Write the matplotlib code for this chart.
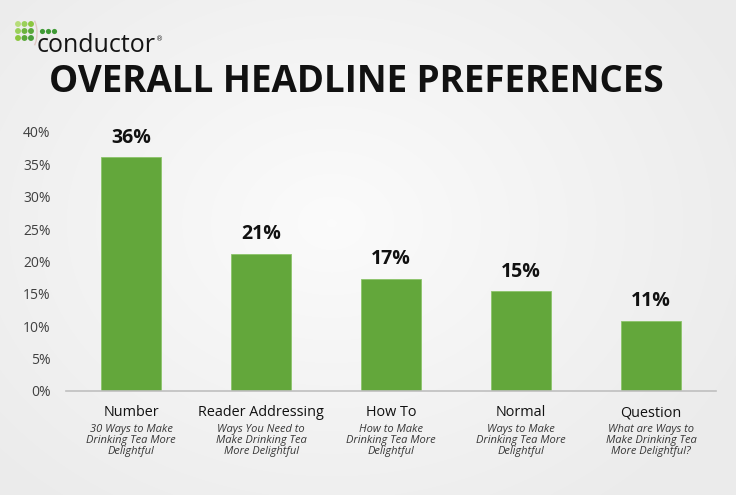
import numpy as np
import matplotlib
matplotlib.use("Agg")
import matplotlib.pyplot as plt
from matplotlib.patches import Arc

categories = ["Number", "Reader Addressing", "How To", "Normal", "Question"]
subtitles = [
    "30 Ways to Make\nDrinking Tea More\nDelightful",
    "Ways You Need to\nMake Drinking Tea\nMore Delightful",
    "How to Make\nDrinking Tea More\nDelightful",
    "Ways to Make\nDrinking Tea More\nDelightful",
    "What are Ways to\nMake Drinking Tea\nMore Delightful?",
]
values = [36.1, 21.2, 17.3, 15.4, 10.8]
value_labels = ["36%", "21%", "17%", "15%", "11%"]
yticks = [0, 5, 10, 15, 20, 25, 30, 35, 40]
ytick_labels = ["0%", "5%", "10%", "15%", "20%", "25%", "30%", "35%", "40%"]

W, H = 736, 495
fig = plt.figure(figsize=(W / 100, H / 100), dpi=100)

# background radial gradient (pixel coordinates)
bg = fig.add_axes([0, 0, 1, 1])
yy, xx = np.mgrid[0:H, 0:W]
r = np.sqrt(((xx - W * 0.45) / (W * 0.6)) ** 2 + ((yy - H * 0.45) / (H * 0.7)) ** 2)
r = np.clip(r, 0, 1)
val = 0.985 - 0.06 * r
bg.imshow(np.dstack([val, val, val]), aspect="auto", extent=[0, W, H, 0])
bg.set_xlim(0, W)
bg.set_ylim(H, 0)
bg.axis("off")

ax = fig.add_axes([66 / W, 1 - 391 / H, 650 / W, 259 / H])
ax.patch.set_alpha(0)
x = np.arange(len(categories))
ax.bar(x, values, width=0.46, color="#63a73b", edgecolor="#8cc46a", linewidth=0.6)
ax.set_xlim(-0.5, len(categories) - 0.5)
ax.set_ylim(0, 40)
ax.set_yticks(yticks)
ax.set_yticklabels(ytick_labels, fontsize=10, color="#404040", family="Open Sans")
ax.tick_params(axis="y", length=0, pad=11)
ax.tick_params(axis="x", length=0)
ax.set_xticks([])
for s in ["top", "right", "left"]:
    ax.spines[s].set_visible(False)
ax.spines["bottom"].set_color("#bfbfbf")
ax.spines["bottom"].set_linewidth(1.2)

for xi, v, lab in zip(x, values, value_labels):
    ax.annotate(lab, (xi, v), xytext=(0, 7), textcoords="offset points",
                ha="center", va="bottom", fontsize=14, fontweight="bold",
                color="#111111", family="Open Sans")

for xi, cat, sub in zip(x, categories, subtitles):
    ax.annotate(cat, (xi, 0), xytext=(0, -15.5), textcoords="offset points",
                ha="center", va="center", fontsize=10.4, color="#111111",
                family="Open Sans")
    ax.annotate(sub, (xi, 0), xytext=(0, -23.5), textcoords="offset points",
                ha="center", va="top", fontsize=8.0, color="#383838",
                style="italic", family="Open Sans", linespacing=1.05)

# title
fig.text(356 / W, 1 - 82 / H, "OVERALL HEADLINE PREFERENCES", ha="center", va="center",
         fontsize=26.5, fontweight="bold", color="#111111", family="Open Sans")

# logo
bg.text(37, 45, "conductor", ha="left", va="center", fontsize=18,
        color="#151515", family="Open Sans")
bg.text(156, 39, "®", ha="left", va="center", fontsize=5, color="#222222")
grid_cols = ["#b7dd7a", "#9ad05a", "#8cc63f",
             "#9ad05a", "#6cb33f", "#5aa83a",
             "#8cc63f", "#5aa83a", "#4a9e3a"]
gx, gy = [], []
for j in range(3):
    for i in range(3):
        gx.append(18 + i * 6.5)
        gy.append(24 + j * 7)
bg.scatter(gx, gy, s=18, c=grid_cols, marker="o", linewidths=0, zorder=5)
bg.scatter([42, 48, 54], [31, 31, 31], s=14, c="#3f9a35", linewidths=0, zorder=5)
bg.add_patch(Arc((30, 33), 14, 32, theta1=-70, theta2=70, color="#e0c9c4", lw=1))

fig.savefig("out.png", dpi=100)
